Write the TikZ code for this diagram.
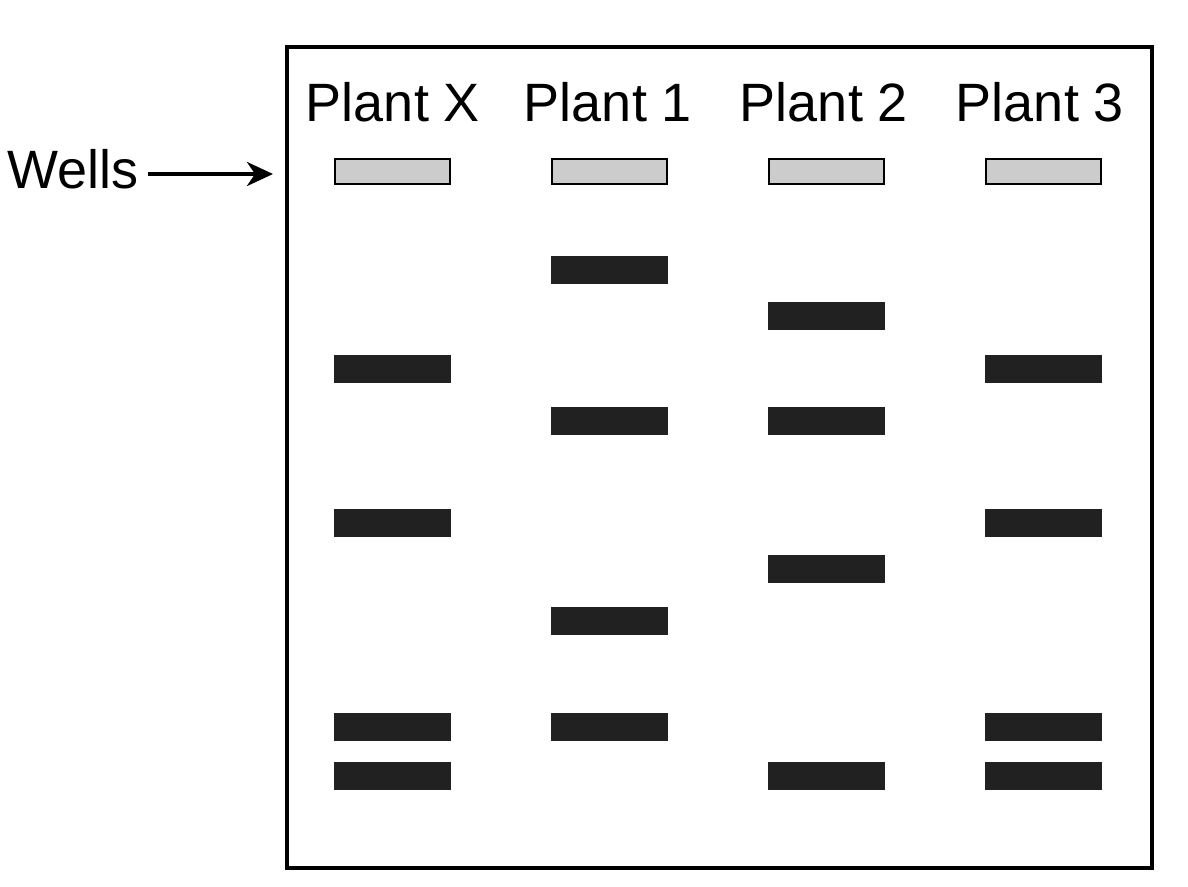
\documentclass[tikz,border=0pt]{standalone}
\usepackage{fontspec}
\setmainfont{Liberation Sans}
\usetikzlibrary{arrows.meta}
\begin{document}
\begin{tikzpicture}[x=1pt,y=-1pt,
  lbl/.style={font=\fontsize{54}{60}\selectfont, inner sep=0pt, anchor=base},
  well/.style={draw=black, line width=2pt, fill=black!20, minimum width=115pt, minimum height=25pt, inner sep=0pt},
  band/.style={fill=black!87, minimum width=117pt, minimum height=28pt, inner sep=0pt}]
\useasboundingbox (0,0) rectangle (1188,886);
\draw[line width=4pt] (287,47) rectangle (1152,868);
\node[lbl] (lx) at (393,121) {Plant X};
\node[lbl] (l1) at (608,121) {Plant 1};
\node[lbl] (l2) at (824,121) {Plant 2};
\node[lbl] (l3) at (1040,121) {Plant 3};
\node[lbl, anchor=base west] (wl) at (7,188) {Wells};
\coordinate (ae) at (273,174);
\draw[line width=4pt, -{Stealth[length=26pt,width=24pt,inset=8pt]}] (wl.east |- ae) ++(10,0) coordinate (as) -- (ae);
% wells
\node[well] (wx) at (392.5,171.5) {};
\node[well] (w1) at (609,171.5) {};
\node[well] (w2) at (826,171.5) {};
\node[well] (w3) at (1043,171.5) {};
% lane X
\node[band] (bx1) at (392.5,369) {};
\node[band] (bx2) at (392.5,523) {};
\node[band] (bx3) at (392.5,727) {};
\node[band] (bx4) at (392.5,776) {};
% lane 1
\node[band] (b11) at (609,270) {};
\node[band] (b12) at (609,421) {};
\node[band] (b13) at (609,621) {};
\node[band] (b14) at (609,727) {};
% lane 2
\node[band] (b21) at (826,316) {};
\node[band] (b22) at (826,421) {};
\node[band] (b23) at (826,569) {};
\node[band] (b24) at (826,776) {};
% lane 3
\node[band] (b31) at (1043,369) {};
\node[band] (b32) at (1043,523) {};
\node[band] (b33) at (1043,727) {};
\node[band] (b34) at (1043,776) {};
\end{tikzpicture}
\end{document}
